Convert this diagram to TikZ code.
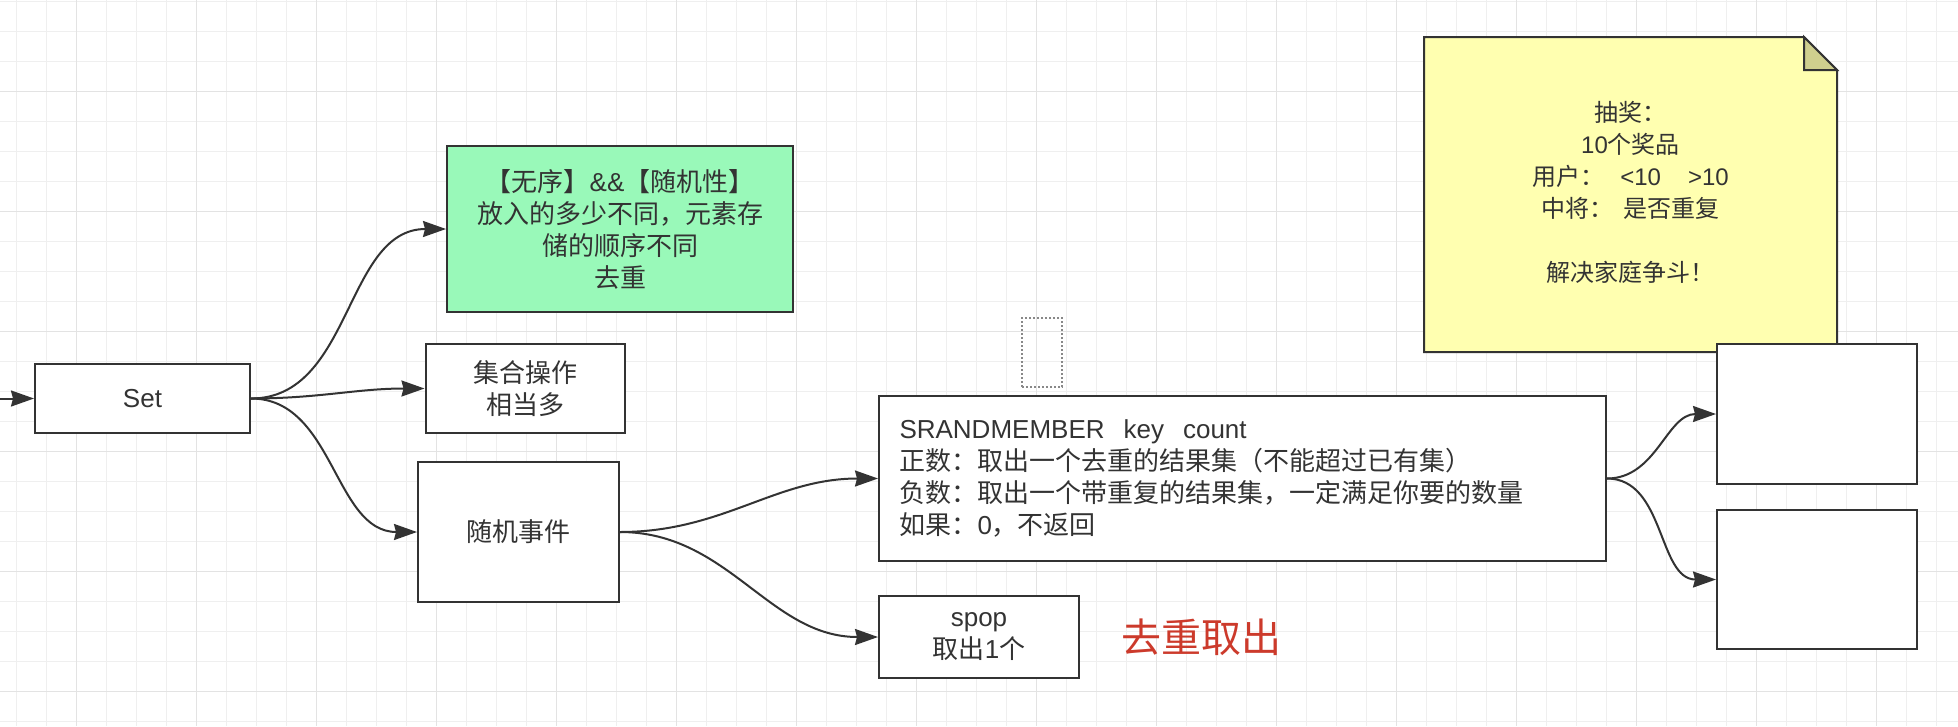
\documentclass[tikz,border=0pt]{standalone}
\usepackage{fontspec}
\setmainfont{Noto Sans CJK SC}
\newfontfamily\lat{Liberation Sans}
\usetikzlibrary{arrows.meta}
\definecolor{ink}{HTML}{333333}
\definecolor{gridminor}{HTML}{EFEFEF}
\definecolor{gridmajor}{HTML}{E3E3E3}
\definecolor{mint}{HTML}{99F9B9}
\definecolor{notey}{HTML}{FFFFB0}
\definecolor{notefold}{HTML}{CFCF8E}
\definecolor{redtxt}{HTML}{CC3A2B}
\definecolor{dotgray}{HTML}{888888}
\begin{document}
\begin{tikzpicture}[x=1pt,y=-1pt,
  box/.style={draw=ink, line width=2pt, fill=white, inner sep=0pt, text=ink,
    align=center, font=\fontsize{26}{32}\selectfont},
  conn/.style={draw=ink, line width=2pt, -{Stealth[length=23pt,width=16pt,inset=2pt]}},
  minorline/.style={draw=gridminor, line width=1pt},
  majorline/.style={draw=gridmajor, line width=1.4pt},
]
\useasboundingbox (0,0) rectangle (1958,726);
\fill[white] (0,0) rectangle (1958,726);
% grid
\foreach \k in {0,...,64} \draw[minorline] ({16.7+30*\k},0) -- ({16.7+30*\k},726);
\foreach \k in {0,...,24} \draw[minorline] (0,{1.7+30*\k}) -- (1958,{1.7+30*\k});
\foreach \k in {0,...,15} \draw[majorline] ({76.7+120*\k},0) -- ({76.7+120*\k},726);
\foreach \k in {0,...,5} \draw[majorline] (0,{91.7+120*\k}) -- (1958,{91.7+120*\k});

% note (drawn first, right box overlaps it)
\coordinate (ntl) at (1424,37);
\coordinate (nfa) at (1804,37);
\coordinate (nfb) at (1837,70);
\coordinate (nfc) at (1804,70);
\coordinate (nbr) at (1837,352);
\coordinate (nbl) at (1424,352);
\draw[ink, line width=2pt, fill=notey, line join=miter] (ntl) -- (nfa) -- (nfb) -- (nbr) -- (nbl) -- cycle;
\draw[ink, line width=2pt, fill=notefold, line join=miter] (nfa) -- (nfc) -- (nfb) -- cycle;
\node[text=ink, align=center, inner sep=0pt, font=\fontsize{24}{32}\selectfont] (note) at (1630.5,192)
  {抽奖：\\
   {\lat 10}个奖品\\
   用户：\hspace{16pt}{\lat <10}\hspace{27pt}{\lat >10}\\
   中将：\hspace{10pt}是否重复\\[32pt]
   解决家庭争斗！};

% nodes
\node[box, minimum width=215pt, minimum height=69pt] (set) at (142.5,398.5) {\lat Set};
\node[box, fill=mint, minimum width=346pt, minimum height=166pt] (green) at (620,229)
  {【无序】{\lat \&\&}【随机性】\\放入的多少不同，元素存\\储的顺序不同\\去重};
\node[box, minimum width=199pt, minimum height=89pt] (ops) at (525,388.5) {集合操作\\相当多};
\node[box, minimum width=201pt, minimum height=140pt] (rand) at (518.5,532) {随机事件};
\node[box, align=left, text width=686pt, inner xsep=20.5pt, minimum height=165pt] (srand) at (1242.5,478.5)
  {{\lat SRANDMEMBER\hspace{19pt}key\hspace{19pt}count}\\
   正数：取出一个去重的结果集（不能超过已有集）\\
   负数：取出一个带重复的结果集，一定满足你要的数量\\
   如果：{\lat 0}，不返回};
\node[box, minimum width=200pt, minimum height=82pt] (spop) at (979,637) {{\lat spop}\\取出{\lat 1}个};
\node[text=redtxt, inner sep=0pt, font=\fontsize{40}{44}\selectfont] (red) at (1201,637) {去重取出};
\node[box, minimum width=200pt, minimum height=140pt] (b1) at (1817,414) {};
\node[box, minimum width=200pt, minimum height=139pt] (b2) at (1817,579.5) {};
\node[draw=dotgray, line width=2pt, dash pattern=on 2pt off 2pt, inner sep=0pt,
  minimum width=40pt, minimum height=69pt] (sel) at (1042,352.5) {};

% connectors
\coordinate (src) at (0,398.5);
\draw[conn] (src) -- (set.west);
\draw[conn] (set.east) to[out=0,in=180] (green.west);
\draw[conn] (set.east) to[out=0,in=180] (ops.west);
\draw[conn] (set.east) to[out=0,in=180] (rand.west);
\draw[conn] (rand.east) to[out=0,in=180] (srand.west);
\draw[conn] (rand.east) to[out=0,in=180] (spop.west);
\draw[conn] (srand.east) to[out=0,in=180] (b1.west);
\draw[conn] (srand.east) to[out=0,in=180] (b2.west);
\end{tikzpicture}
\end{document}
